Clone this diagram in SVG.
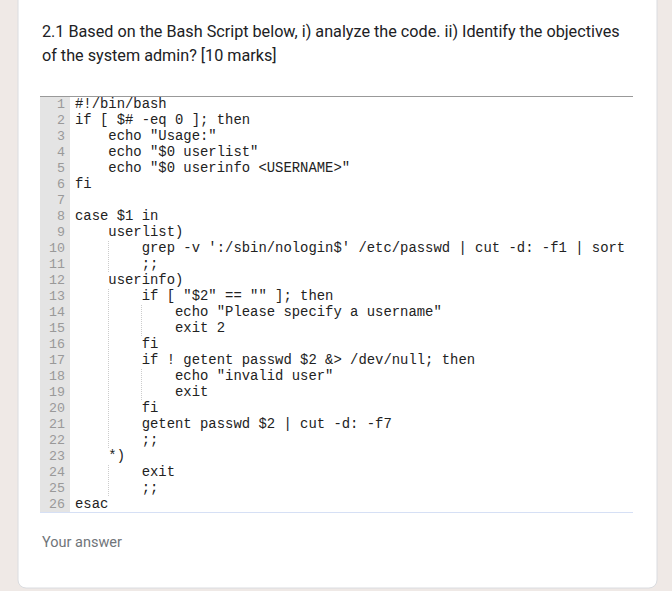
<svg xmlns="http://www.w3.org/2000/svg" width="672" height="591" viewBox="0 0 672 591">
<style>
.t{font-family:"Roboto","Liberation Sans",sans-serif;font-size:16.2px;fill:#202124}
.c{font-family:"Liberation Mono","Courier New",monospace;font-size:13.9px;fill:#222;white-space:pre}
.n{font-family:"Liberation Mono",monospace;font-size:13.3px;fill:#999;text-anchor:end}
.g{stroke:#ccc;stroke-width:1;stroke-dasharray:1 1}
</style>
<rect width="672" height="591" fill="#efe9e6"/>
<rect x="18" y="-10" width="639" height="598" rx="8" fill="#fff" stroke="#dadce0"/>
<text class="t" x="42" y="37">2.1 Based on the Bash Script below, i) analyze the code. ii) Identify the objectives</text>
<text class="t" x="42" y="61">of the system admin? [10 marks]</text>
<rect x="40" y="96" width="30" height="416" fill="#e4e4e4"/>
<line x1="40" y1="96.5" x2="633" y2="96.5" stroke="#999"/>
<line x1="40" y1="512.5" x2="633" y2="512.5" stroke="#d6e0f5"/>
<g id="gutter">
<text class="n" x="65" y="108">1</text><text class="n" x="65" y="124">2</text><text class="n" x="65" y="140">3</text><text class="n" x="65" y="156">4</text><text class="n" x="65" y="172">5</text><text class="n" x="65" y="188">6</text><text class="n" x="65" y="204">7</text><text class="n" x="65" y="220">8</text><text class="n" x="65" y="236">9</text><text class="n" x="65" y="252">10</text><text class="n" x="65" y="268">11</text><text class="n" x="65" y="284">12</text><text class="n" x="65" y="300">13</text><text class="n" x="65" y="316">14</text><text class="n" x="65" y="332">15</text><text class="n" x="65" y="348">16</text><text class="n" x="65" y="364">17</text><text class="n" x="65" y="380">18</text><text class="n" x="65" y="396">19</text><text class="n" x="65" y="412">20</text><text class="n" x="65" y="428">21</text><text class="n" x="65" y="444">22</text><text class="n" x="65" y="460">23</text><text class="n" x="65" y="476">24</text><text class="n" x="65" y="492">25</text><text class="n" x="65" y="508">26</text>
</g>
<g id="guides">
<line class="g" x1="108.5" y1="241" x2="108.5" y2="273"/>
<line class="g" x1="108.5" y1="289" x2="108.5" y2="449"/>
<line class="g" x1="141.5" y1="305" x2="141.5" y2="337"/>
<line class="g" x1="141.5" y1="369" x2="141.5" y2="401"/>
<line class="g" x1="108.5" y1="465" x2="108.5" y2="497"/>
</g>
<g id="code">
<text class="c" x="75" y="108">#!/bin/bash</text>
<text class="c" x="75" y="124">if [ $# -eq 0 ]; then</text>
<text class="c" x="75" y="140">    echo "Usage:"</text>
<text class="c" x="75" y="156">    echo "$0 userlist"</text>
<text class="c" x="75" y="172">    echo "$0 userinfo &lt;USERNAME&gt;"</text>
<text class="c" x="75" y="188">fi</text>
<text class="c" x="75" y="220">case $1 in</text>
<text class="c" x="75" y="236">    userlist)</text>
<text class="c" x="75" y="252">        grep -v ':/sbin/nologin$' /etc/passwd | cut -d: -f1 | sort</text>
<text class="c" x="75" y="268">        ;;</text>
<text class="c" x="75" y="284">    userinfo)</text>
<text class="c" x="75" y="300">        if [ "$2" == "" ]; then</text>
<text class="c" x="75" y="316">            echo "Please specify a username"</text>
<text class="c" x="75" y="332">            exit 2</text>
<text class="c" x="75" y="348">        fi</text>
<text class="c" x="75" y="364">        if ! getent passwd $2 &amp;&gt; /dev/null; then</text>
<text class="c" x="75" y="380">            echo "invalid user"</text>
<text class="c" x="75" y="396">            exit</text>
<text class="c" x="75" y="412">        fi</text>
<text class="c" x="75" y="428">        getent passwd $2 | cut -d: -f7</text>
<text class="c" x="75" y="444">        ;;</text>
<text class="c" x="75" y="460">    *)</text>
<text class="c" x="75" y="476">        exit</text>
<text class="c" x="75" y="492">        ;;</text>
<text class="c" x="75" y="508">esac</text>
</g>
<text x="42" y="547" style="font-family:Roboto,'Liberation Sans',sans-serif;font-size:14.5px;fill:#70757a">Your answer</text>
</svg>
